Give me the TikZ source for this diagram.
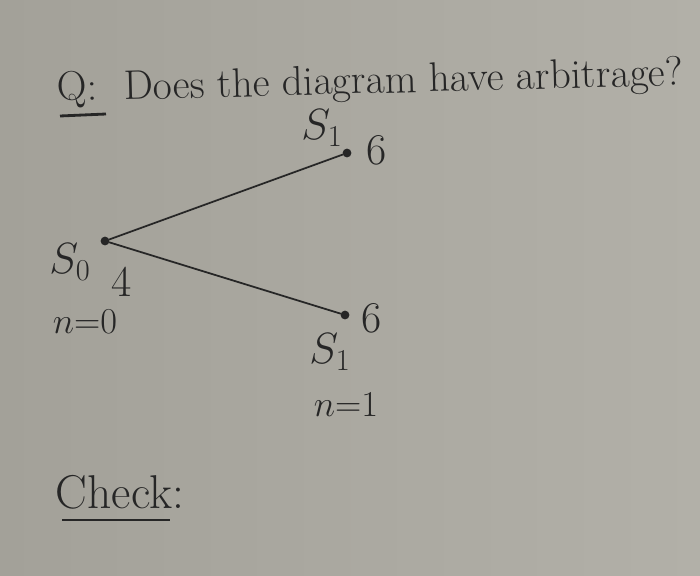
\documentclass[tikz,border=0pt]{standalone}
\usepackage{tikz}
\usetikzlibrary{positioning}
\definecolor{paper}{RGB}{163,161,153}
\definecolor{paperlight}{RGB}{178,176,168}
\definecolor{ink}{RGB}{38,38,38}
\tikzset{
every picture/.style={line width=0.8pt, x=0.02cm, y=-0.02cm},
%%%%%%%%%%  Node styles
dotnode/.style={fill=ink,circle,minimum size=5pt, inner sep=0pt, outer sep=0},
handtext/.style={text=ink, inner sep=1pt},
bigtext/.style={handtext, font=\fontsize{23.5}{26}\selectfont},
labeltext/.style={handtext, font=\fontsize{21}{24}\selectfont},
valuetext/.style={handtext, font=\fontsize{25}{28}\selectfont},
namelabel/.style={handtext, font=\fontsize{27}{30}\selectfont},
%%%% line styles
branch/.style={draw=ink, line width=1pt},
underline/.style={draw=ink, line width=1.6pt}
}

\begin{document}
\begin{tikzpicture}
\shade[left color=paper, right color=paperlight] (0,0) rectangle (700,575);
\useasboundingbox (0,0) rectangle (700,575);
%%%%%%% question
\node[bigtext, anchor=base west, rotate=1.5] (q) at (55,101) {Q:};
\node[bigtext, anchor=base west, rotate=1.5] (question) at (122,100)
             {Does the diagram have arbitrage?};
\coordinate (qline1) at (60,116);
\coordinate (qline2) at (106,114);
\draw[underline] (qline1) -- (qline2);
%%%%%%% tree
\node[dotnode] (s0) at (105,241) {};
\node[dotnode] (up) at (347,153) {};
\node[dotnode] (down) at (345,315) {};
\draw[branch] (s0) -- (up);
\draw[branch] (s0) -- (down);
\node[namelabel] (s0name) at (70,262) {$S_0$};
\node[valuetext] (s0val) at (122,282) {4};
\node[namelabel] (upname) at (322,128) {$S_1$};
\node[valuetext] (upval) at (377,150) {6};
\node[valuetext] (downval) at (372,318) {6};
\node[namelabel] (downname) at (330,352) {$S_1$};
%%%%%%% time steps
\node[labeltext] (n0) at (85,322) {$n{=}0$};
\node[labeltext] (n1) at (346,405) {$n{=}1$};
%%%%%%% check
\node[handtext, font=\fontsize{27}{30}\selectfont] (check) at (120,492) {Check:};
\coordinate (cline1) at (62,520);
\coordinate (cline2) at (170,520);
\draw[underline] (cline1) -- (cline2);
\end{tikzpicture}
\end{document}
